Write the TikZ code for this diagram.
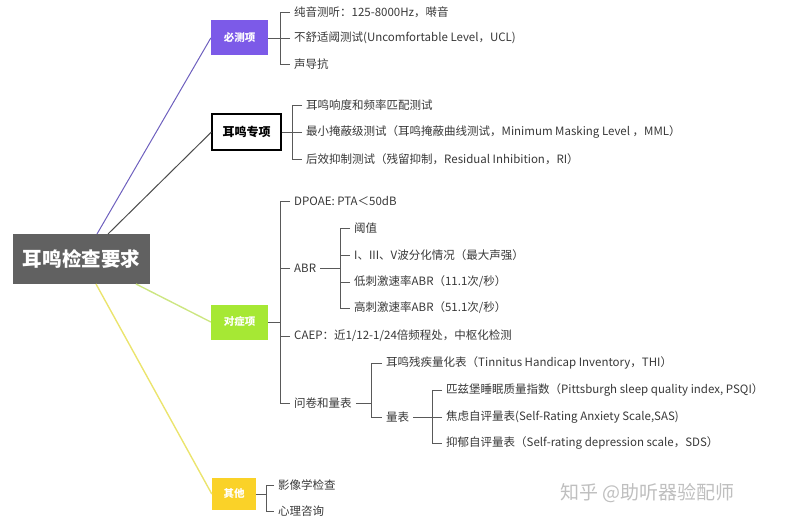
\documentclass[tikz,border=0pt]{standalone}
\usepackage{fontspec}
\setmainfont{Noto Sans CJK SC}
\definecolor{cpurple}{RGB}{124,90,232}
\definecolor{cgreen}{RGB}{166,232,52}
\definecolor{cyellow}{RGB}{250,210,40}
\definecolor{lpurple}{RGB}{110,96,190}
\definecolor{lgreen}{RGB}{205,230,130}
\definecolor{lyellow}{RGB}{235,228,110}
\begin{document}
\begin{tikzpicture}[x=1pt,y=-1pt,
  txt/.style={anchor=west,inner xsep=4pt,inner ysep=1pt,font=\fontsize{11.5}{13}\selectfont,text=black!78},
  cbox/.style={minimum height=35pt,inner xsep=0pt,font=\bfseries\fontsize{10.5}{12}\selectfont},
  br/.style={draw=black!65,line width=0.8pt},
]
\useasboundingbox (0,0) rectangle (789,529);
% root
\node[fill=black!62,text=white,font=\bfseries\fontsize{19.5}{22}\selectfont,minimum width=137pt,minimum height=49pt,inner sep=0pt] (root) at (81.5,259) {耳鸣检查要求};
% category boxes
\node[cbox,fill=cpurple,text=white,minimum width=57pt] (c1) at (239.5,38) {必测项};
\node[cbox,draw=black,line width=1.1pt,fill=white,text=black,minimum width=69pt,minimum height=36pt,font=\bfseries\fontsize{12}{14}\selectfont] (c2) at (246.5,132) {耳鸣专项};
\node[cbox,fill=cgreen,text=white,minimum width=57pt] (c3) at (239.5,322) {对症项};
\node[cbox,fill=cyellow,text=white,minimum width=44pt,minimum height=32pt] (c4) at (234,494) {其他};
% root connectors
\coordinate (r1) at (97,234);
\coordinate (r2) at (108,234);
\coordinate (r3) at (136,284);
\coordinate (r4) at (96,284);
\draw[lpurple,line width=1pt] (r1) -- (c1.west);
\draw[black!70,line width=1pt] (r2) -- (c2.west);
\draw[lgreen,line width=1.4pt] (r3) -- (c3.west);
\draw[lyellow,line width=1.4pt] (r4) -- (c4.west);
% group 1
\node[txt] (a1) at (290,12) {纯音测听：125-8000Hz，啭音};
\node[txt] (a2) at (290,38) {不舒适阈测试(Uncomfortable Level，UCL)};
\node[txt] (a3) at (290,64) {声导抗};
\coordinate (k1) at (280,38);
\draw[br] (c1.east) -- (k1);
\draw[br] (a1.west) -- (a1.west -| k1) -- (a3.west -| k1) -- (a3.west);
\draw[br] (a2.west) -- (a2.west -| k1);
% group 2
\node[txt] (b1) at (302,105) {耳鸣响度和频率匹配测试};
\node[txt] (b2) at (302,132) {最小掩蔽级测试（耳鸣掩蔽曲线测试，Minimum Masking Level ，MML）};
\node[txt] (b3) at (302,159) {后效抑制测试（残留抑制，Residual Inhibition，RI）};
\coordinate (k2) at (292,132);
\draw[br] (c2.east) -- (k2);
\draw[br] (b1.west) -- (b1.west -| k2) -- (b3.west -| k2) -- (b3.west);
\draw[br] (b2.west) -- (b2.west -| k2);
% group 3
\node[txt] (d1) at (290,201) {DPOAE: PTA＜50dB};
\node[txt] (d2) at (290,268) {ABR};
\node[txt] (d3) at (290,336) {CAEP：近1/12-1/24倍频程处，中枢化检测};
\node[txt] (d4) at (290,403) {问卷和量表};
\coordinate (k3) at (280,322);
\draw[br] (c3.east) -- (k3);
\draw[br] (d1.west) -- (d1.west -| k3) -- (d4.west -| k3) -- (d4.west);
\draw[br] (d2.west) -- (d2.west -| k3);
\draw[br] (d3.west) -- (d3.west -| k3);
% ABR
\node[txt] (e1) at (350,228) {阈值};
\node[txt] (e2) at (350,255) {I、III、V波分化情况（最大声强）};
\node[txt] (e3) at (350,282) {低刺激速率ABR（11.1次/秒）};
\node[txt] (e4) at (350,308) {高刺激速率ABR（51.1次/秒）};
\coordinate (k4) at (340,268);
\draw[br] (d2.east) -- (k4);
\draw[br] (e1.west) -- (e1.west -| k4) -- (e4.west -| k4) -- (e4.west);
\draw[br] (e2.west) -- (e2.west -| k4);
\draw[br] (e3.west) -- (e3.west -| k4);
% questionnaires
\node[txt] (f1) at (382,363) {耳鸣残疾量化表（Tinnitus Handicap Inventory，THI）};
\node[txt] (f2) at (382,417) {量表};
\coordinate (k5) at (371,403);
\draw[br] (d4.east) -- (k5);
\draw[br] (f1.west) -- (f1.west -| k5) -- (f2.west -| k5) -- (f2.west);
\node[txt] (g1) at (442,390) {匹兹堡睡眠质量指数（Pittsburgh sleep quality index, PSQI）};
\node[txt] (g2) at (442,417) {焦虑自评量表(Self-Rating Anxiety Scale,SAS)};
\node[txt] (g3) at (442,443) {抑郁自评量表（Self-rating depression scale，SDS）};
\coordinate (k6) at (432,417);
\draw[br] (f2.east) -- (k6);
\draw[br] (g1.west) -- (g1.west -| k6) -- (g3.west -| k6) -- (g3.west);
\draw[br] (g2.west) -- (g2.west -| k6);
% group 4
\node[txt] (h1) at (274,485) {影像学检查};
\node[txt] (h2) at (274,511) {心理咨询};
\coordinate (k7) at (266,494);
\draw[br] (c4.east) -- (k7);
\draw[br] (h1.west) -- (h1.west -| k7) -- (h2.west -| k7) -- (h2.west);
% watermark
\node[anchor=west,text=black!25,font=\fontsize{19}{22}\selectfont,inner sep=0pt] (wm) at (560,493) {知乎 @助听器验配师};
\end{tikzpicture}
\end{document}
